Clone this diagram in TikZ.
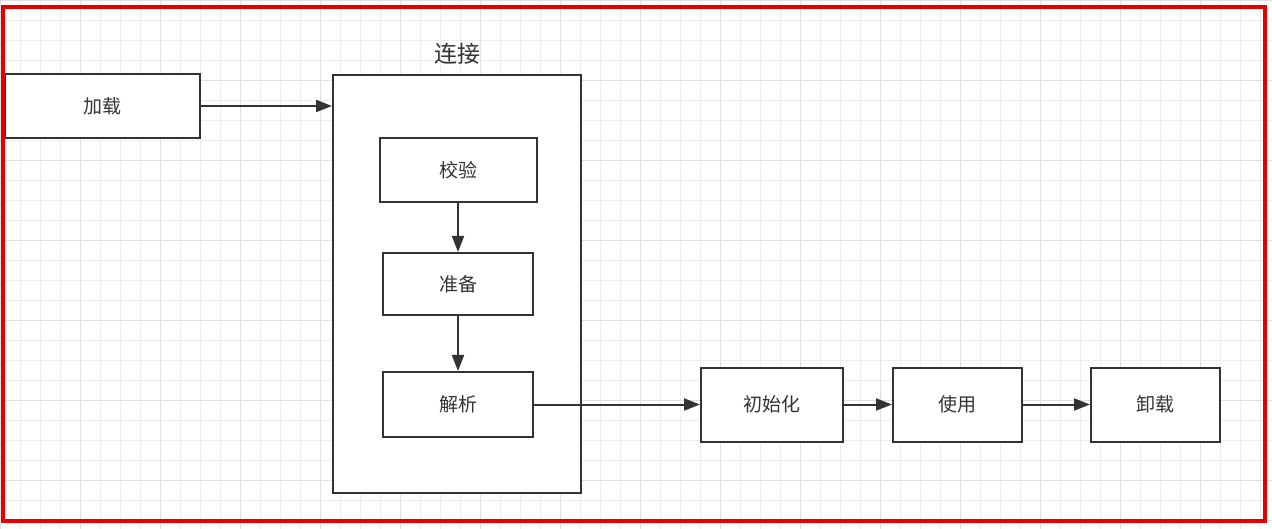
\documentclass[tikz,border=0pt]{standalone}
\usepackage{fontspec}
\setmainfont{Noto Sans CJK SC}
\usetikzlibrary{arrows.meta}
\definecolor{ln}{HTML}{333333}
\begin{document}
\begin{tikzpicture}[x=1pt,y=-1pt,
  box/.style={draw=ln,line width=2pt,fill=white,inner sep=0pt,font=\fontsize{19}{19}\selectfont,text=ln},
  arr/.style={draw=ln,line width=2pt,-{Triangle[length=16pt,width=12pt]}}]
\useasboundingbox (0,0) rectangle (1272,529);
\fill[white] (0,0) rectangle (1272,529);
\foreach \k in {0,20,...,1280} \draw[black!7,line width=0.7pt] (\k,0) -- (\k,529);
\foreach \k in {0,20,...,540} \draw[black!7,line width=0.7pt] (0,\k) -- (1272,\k);
\foreach \k in {0,80,...,1280} \draw[black!12,line width=0.9pt] (\k,0) -- (\k,529);
\foreach \k in {0,80,...,540} \draw[black!12,line width=0.9pt] (0,\k) -- (1272,\k);
\node[box,minimum width=195pt,minimum height=64pt] (load) at (102.5,106) {加载};
\node[box,minimum width=248pt,minimum height=418pt] (link) at (457,284) {};
\node[font=\fontsize{23}{23}\selectfont,text=ln] (linkl) at (457,54) {连接};
\node[box,minimum width=157pt,minimum height=64pt] (v) at (458,170) {校验};
\node[box,minimum width=150pt,minimum height=62pt] (p) at (458,284) {准备};
\node[box,minimum width=150pt,minimum height=65pt] (r) at (458,404.5) {解析};
\node[box,minimum width=142pt,minimum height=74pt] (i) at (772,404.5) {初始化};
\node[box,minimum width=129pt,minimum height=74pt] (u) at (957.5,404.5) {使用};
\node[box,minimum width=129pt,minimum height=74pt] (x) at (1155.5,404.5) {卸载};
\draw[arr] (load.east) -- (link.west |- load.east);
\draw[arr] (v) -- (p);
\draw[arr] (p) -- (r);
\draw[arr] (r.east) -- (i.west);
\draw[arr] (i) -- (u);
\draw[arr] (u) -- (x);
\draw[red!90!black,line width=3.5pt] (3,7) rectangle (1265,521);
\end{tikzpicture}
\end{document}
